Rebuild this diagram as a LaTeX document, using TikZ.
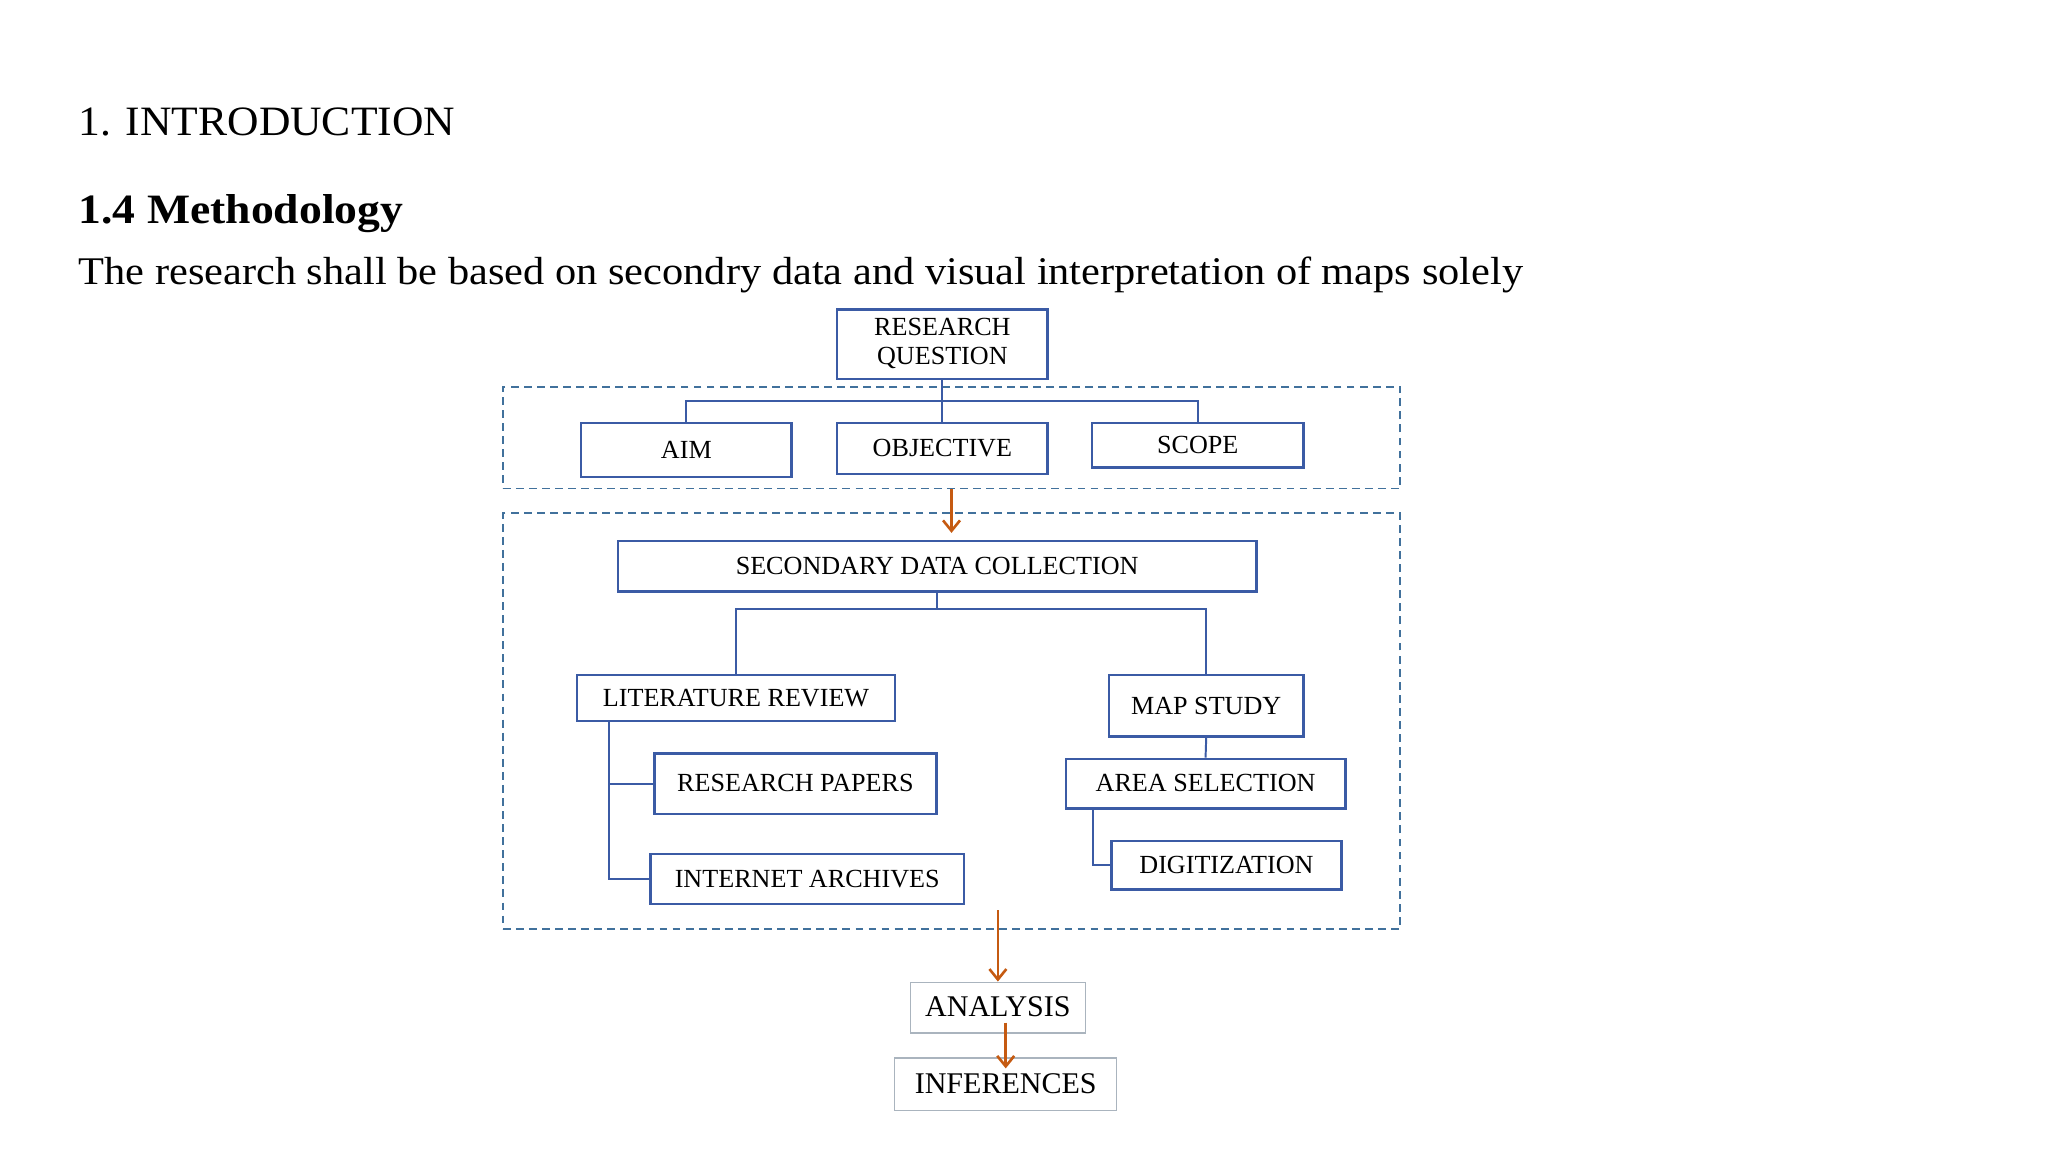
\documentclass[tikz,border=0pt]{standalone}
\usepackage{fontspec}
\setmainfont{Liberation Serif}
\usetikzlibrary{arrows.meta}
\definecolor{boxblue}{RGB}{59,91,165}
\definecolor{dashblue}{RGB}{65,113,156}
\definecolor{arrorange}{RGB}{197,90,17}
\definecolor{boxgray}{RGB}{170,180,190}
\begin{document}
\begin{tikzpicture}[x=1pt,y=-1pt,
  bluebox/.style={draw=boxblue,line width=1.8pt,inner sep=0pt,font=\fontsize{20}{22}\selectfont},
  onebox/.style={bluebox,text height=16pt,text depth=3.4pt},
  graybox/.style={draw=boxgray,line width=1pt,inner sep=0pt,font=\fontsize{23}{26}\selectfont,text height=18.2pt,text depth=4pt},
  dashbox/.style={draw=dashblue,line width=1.5pt,dash pattern=on 6pt off 4pt,inner sep=0pt},
  conn/.style={draw=boxblue,line width=1.5pt},
  arr/.style={draw=arrorange,line width=2pt,-{Straight Barb[length=8pt,width=13pt,line width=2pt]}},
  headtext/.style={anchor=base west,inner sep=0pt}
]
\useasboundingbox (0,0) rectangle (1568,882);
% headings
\node[headtext,font=\fontsize{32}{38}\selectfont] (intro) at (60,104) {\scalebox{1.043}[1]{1. INTRODUCTION}};
\node[headtext,font=\fontsize{32}{36}\selectfont\bfseries] (meth) at (60,171) {\scalebox{1.092}[1]{1.4 Methodology}};
\node[headtext,font=\fontsize{30}{34}\selectfont] (body) at (60,218) {\scalebox{1.082}[1]{The research shall be based on secondry data and visual interpretation of maps solely}};
% dashed groups
\node[dashbox,minimum width=687pt,minimum height=78pt] (d1) at (728.5,335) {};
\node[dashbox,minimum width=687pt,minimum height=318pt] (d2) at (728.5,552) {};
% boxes
\node[bluebox,minimum width=161pt,minimum height=53pt] (rq) at (721.5,263.5) {\raisebox{-2pt}{\begin{tabular}{@{}c@{}}RESEARCH\\QUESTION\end{tabular}}};
\node[onebox,minimum width=161pt,minimum height=41pt] (aim) at (525.5,344.5) {AIM};
\node[onebox,minimum width=161pt,minimum height=39pt] (obj) at (721.5,343.5) {OBJECTIVE};
\node[onebox,minimum width=162pt,minimum height=34pt] (scope) at (917,341) {SCOPE};
\node[onebox,minimum width=489pt,minimum height=39pt] (sdc) at (717.5,433.5) {SECONDARY DATA COLLECTION};
\node[onebox,minimum width=243pt,minimum height=35pt] (lit) at (563.5,534.5) {LITERATURE REVIEW};
\node[onebox,minimum width=149pt,minimum height=47pt] (map) at (923.5,540.5) {MAP STUDY};
\node[onebox,minimum width=216pt,minimum height=46pt] (rp) at (609,600) {RESEARCH PAPERS};
\node[onebox,minimum width=240pt,minimum height=38pt] (ia) at (618,673) {INTERNET ARCHIVES};
\node[onebox,minimum width=214pt,minimum height=38pt] (as) at (923,600) {AREA SELECTION};
\node[onebox,minimum width=176pt,minimum height=37pt] (dig) at (939,662.5) {DIGITIZATION};
\node[graybox,minimum width=134pt,minimum height=39pt] (ana) at (764,771.5) {ANALYSIS};
\node[graybox,minimum width=170pt,minimum height=40pt] (inf) at (770,830) {INFERENCES};
% connector helper points
\coordinate (bar1) at (721.5,307);
\coordinate (bar2) at (717.5,466);
\coordinate (litdrop) at (466,552);
\coordinate (asdrop) at (837,619);
\coordinate (a1end) at (728.5,408);
\coordinate (a2start) at (764,697);
\coordinate (a3s) at (770,783);
\coordinate (a3e) at (770,818);
% connectors
\draw[conn] (rq.south) -- (obj.north);
\draw[conn] (aim.north) |- (bar1) -| (scope.north);
\draw[conn] (sdc.south) -- (bar2);
\draw[conn] (lit.north) |- (bar2) -| (map.north);
\draw[conn] (litdrop) |- (ia.west);
\draw[conn] (litdrop |- rp.west) -- (rp.west);
\draw[conn] (map.south) -- (as.north);
\draw[conn] (asdrop) |- (dig.west);
% arrows
\draw[arr] (d1.south) -- (a1end);
\draw[arr] (a2start) -- (ana.north);
\draw[arr] (a3s) -- (a3e);
\end{tikzpicture}
\end{document}
